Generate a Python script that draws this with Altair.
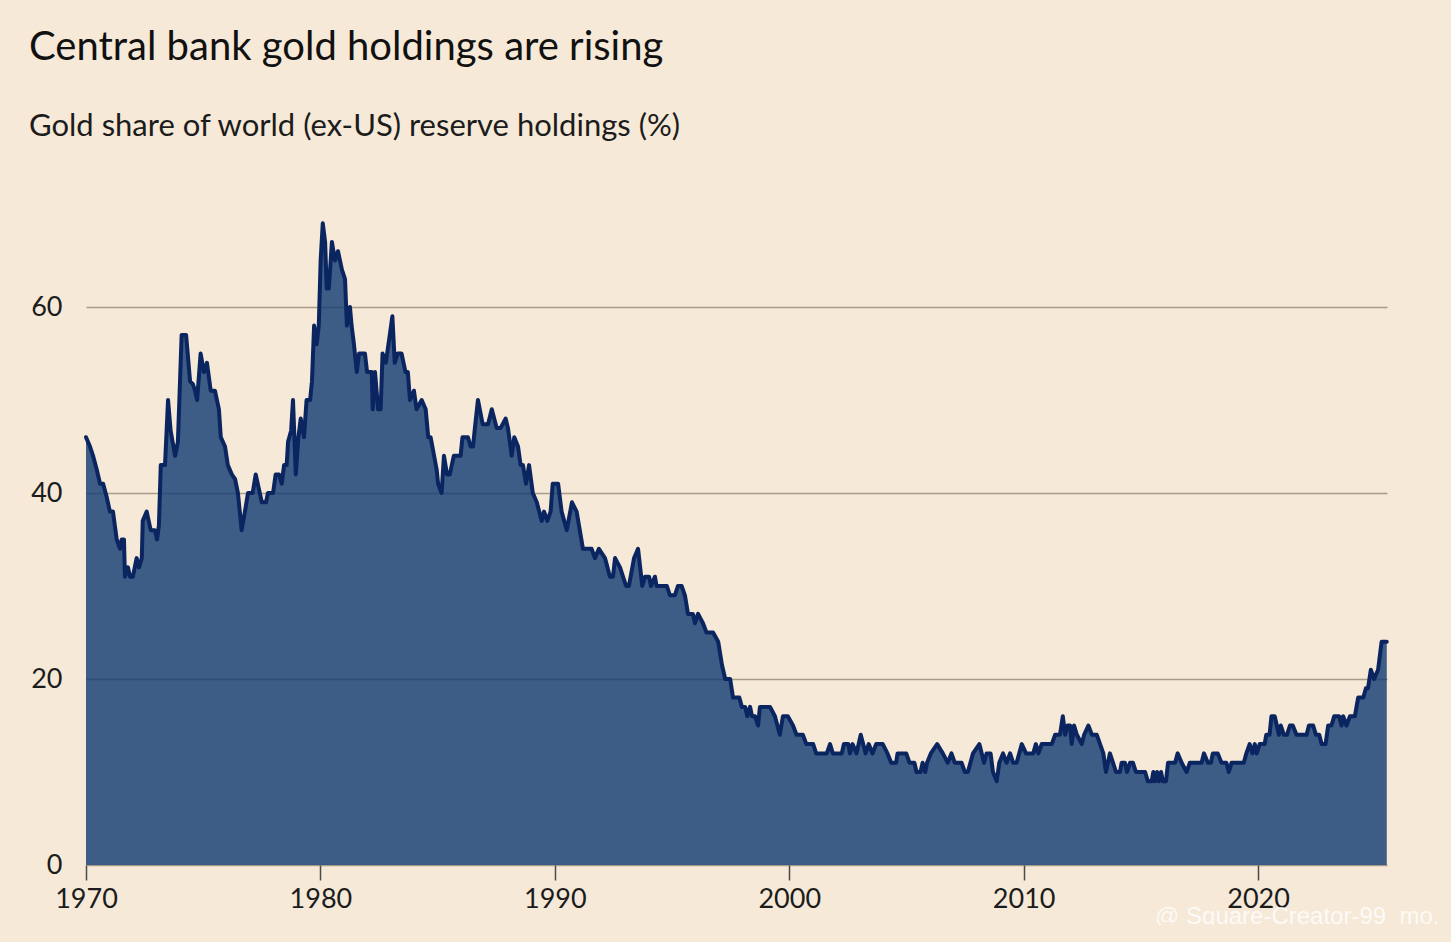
import altair as alt
import pandas as pd

TITLE = "Central bank gold holdings are rising"
SUBTITLE = "Gold share of world (ex-US) reserve holdings (%)"
WATERMARK = "@ Square-Creator-99_mo..."
X_TICKS = [1970, 1980, 1990, 2000, 2010, 2020]
Y_TICKS = [0, 20, 40, 60]

years_70s = [1970.00, 1970.17, 1970.30, 1970.46, 1970.60, 1970.73, 1970.88, 1971.02, 1971.15, 1971.31, 1971.45, 1971.52, 1971.62, 1971.66, 1971.79, 1971.88, 1972.00, 1972.16, 1972.26, 1972.38, 1972.42, 1972.59, 1972.76, 1972.94, 1973.03, 1973.11, 1973.19, 1973.37, 1973.50, 1973.61, 1973.80, 1973.92, 1974.08, 1974.27, 1974.44, 1974.56, 1974.65, 1974.74, 1974.89, 1975.03, 1975.16, 1975.32, 1975.50, 1975.67, 1975.75, 1975.93, 1976.05, 1976.22, 1976.36, 1976.48, 1976.64, 1976.78, 1976.91, 1977.11, 1977.24, 1977.50, 1977.68, 1977.76, 1977.98, 1978.09, 1978.23, 1978.35, 1978.45, 1978.56, 1978.62, 1978.75, 1978.83, 1978.95, 1979.06, 1979.16, 1979.30, 1979.41, 1979.56, 1979.64, 1979.73, 1979.84, 1979.93]
values_70s = [46, 45, 44, 42.5, 41, 41, 39.6, 38, 38, 35, 34, 35, 35, 31, 32, 31, 31, 33, 32, 33, 37, 38, 36, 36, 35, 36.5, 43, 43, 50, 46.7, 44, 45.5, 57, 57, 52, 51.7, 51, 50, 55, 53, 54, 51, 51, 49, 46, 45, 43, 42, 41.5, 40, 36, 38, 40, 40, 42, 39, 39, 40, 40, 42, 42, 41, 43, 43, 45.5, 46.7, 50, 42, 46, 48, 46, 50, 50, 52, 58, 56, 58]

years_80s = [1980.01, 1980.10, 1980.20, 1980.27, 1980.36, 1980.49, 1980.62, 1980.75, 1980.92, 1981.05, 1981.13, 1981.26, 1981.33, 1981.43, 1981.55, 1981.65, 1981.90, 1981.99, 1982.19, 1982.23, 1982.33, 1982.46, 1982.57, 1982.65, 1982.79, 1982.96, 1983.07, 1983.17, 1983.30, 1983.46, 1983.63, 1983.73, 1983.82, 1983.99, 1984.10, 1984.32, 1984.49, 1984.60, 1984.70, 1984.96, 1985.02, 1985.17, 1985.27, 1985.40, 1985.52, 1985.69, 1985.98, 1986.06, 1986.29, 1986.41, 1986.51, 1986.59, 1986.72, 1986.92, 1987.15, 1987.31, 1987.52, 1987.69, 1987.90, 1988.00, 1988.16, 1988.27, 1988.43, 1988.54, 1988.64, 1988.77, 1988.90, 1989.06, 1989.23, 1989.44, 1989.54, 1989.68, 1989.82, 1989.91]
values_80s = [65, 69, 67, 62, 62, 67, 65, 66, 64, 63, 58, 60, 58, 56, 53, 55, 55, 53, 53, 49, 53, 49, 49, 55, 54, 57, 59, 54, 55, 55, 53, 53, 50, 51, 49, 50, 49, 46, 46, 42.5, 41, 40, 44, 42, 42, 44, 44, 46, 46, 45, 45, 47, 50, 47.4, 47.4, 49, 47, 47, 48, 47, 44, 46, 45, 43, 43, 41, 43, 40, 39, 37, 38, 37, 38, 41]

years_90s = [1990.14, 1990.29, 1990.51, 1990.73, 1990.93, 1991.20, 1991.57, 1991.71, 1991.88, 1992.14, 1992.35, 1992.48, 1992.57, 1992.78, 1993.04, 1993.16, 1993.38, 1993.55, 1993.73, 1993.85, 1994.02, 1994.10, 1994.27, 1994.34, 1994.78, 1994.91, 1995.12, 1995.25, 1995.41, 1995.55, 1995.68, 1995.89, 1995.98, 1996.11, 1996.32, 1996.47, 1996.75, 1996.97, 1997.13, 1997.27, 1997.48, 1997.60, 1997.87, 1997.98, 1998.12, 1998.21, 1998.33, 1998.41, 1998.54, 1998.67, 1998.75, 1999.18, 1999.39, 1999.60, 1999.73, 1999.94]
values_90s = [41, 38, 36, 39, 38, 34, 34, 33, 34, 33, 31, 31, 33, 32, 30, 30, 33, 34, 30, 31, 31, 30, 31, 30, 30, 29, 29, 30, 30, 29, 27, 27, 26, 27, 26, 25, 25, 24, 21.5, 20, 20, 18, 18, 17, 17, 16, 17, 16, 16, 15, 17, 17, 16, 14, 16, 16]

years_00s = [2000.16, 2000.31, 2000.58, 2000.73, 2001.02, 2001.15, 2001.60, 2001.74, 2001.86, 2002.24, 2002.33, 2002.52, 2002.59, 2002.70, 2002.87, 2003.05, 2003.26, 2003.39, 2003.55, 2003.71, 2003.99, 2004.19, 2004.35, 2004.56, 2004.62, 2004.99, 2005.13, 2005.34, 2005.43, 2005.60, 2005.69, 2005.80, 2005.88, 2006.04, 2006.31, 2006.55, 2006.76, 2006.92, 2007.06, 2007.35, 2007.49, 2007.62, 2007.84, 2008.11, 2008.31, 2008.42, 2008.59, 2008.69, 2008.85, 2008.96, 2009.12, 2009.27, 2009.42, 2009.55, 2009.70, 2009.92]
values_00s = [15, 14, 14, 13, 13, 12, 12, 13, 12, 12, 13, 13, 12, 13, 12, 14, 12, 13, 12, 13, 13, 12, 11, 11, 12, 12, 11, 11, 10, 10, 11, 10, 11, 12, 13, 12, 11, 12, 11, 11, 10, 10, 12, 13, 11, 12, 12, 10, 9, 11, 12, 11, 12, 11, 11, 13]

years_10s = [2010.10, 2010.41, 2010.52, 2010.63, 2010.77, 2011.20, 2011.34, 2011.55, 2011.67, 2011.77, 2011.87, 2011.98, 2012.05, 2012.15, 2012.27, 2012.48, 2012.58, 2012.76, 2012.91, 2013.12, 2013.26, 2013.40, 2013.51, 2013.68, 2013.81, 2013.94, 2014.11, 2014.18, 2014.32, 2014.41, 2014.54, 2014.66, 2014.79, 2015.18, 2015.30, 2015.46, 2015.53, 2015.60, 2015.69, 2015.77, 2015.86, 2015.94, 2016.07, 2016.16, 2016.46, 2016.57, 2016.74, 2016.95, 2017.09, 2017.59, 2017.69, 2017.86, 2017.99, 2018.07, 2018.28, 2018.44, 2018.65, 2018.75, 2018.87, 2019.39, 2019.50, 2019.64, 2019.76, 2019.86, 2019.94]
values_10s = [12, 12, 13, 12, 13, 13, 14, 14, 16, 14, 15, 15, 13, 15, 14, 13, 14, 15, 14, 14, 13, 12, 10, 12, 11, 10, 10, 11, 11, 10, 11, 11, 10, 10, 9, 9, 10, 9, 10, 9, 10, 9, 9, 11, 11, 12, 11, 10, 11, 11, 12, 11, 11, 12, 12, 11, 11, 10, 11, 11, 12, 13, 12, 13, 12]

years_20s = [2020.07, 2020.28, 2020.35, 2020.49, 2020.57, 2020.71, 2020.89, 2020.97, 2021.10, 2021.23, 2021.36, 2021.48, 2021.64, 2022.07, 2022.17, 2022.35, 2022.47, 2022.61, 2022.71, 2022.88, 2022.99, 2023.13, 2023.25, 2023.46, 2023.56, 2023.63, 2023.77, 2023.92, 2024.13, 2024.27, 2024.49, 2024.60, 2024.69, 2024.81, 2024.95, 2025.12, 2025.27, 2025.49]
values_20s = [13, 13, 14, 14, 16, 16, 14, 15, 14, 14, 15, 15, 14, 14, 15, 15, 14, 14, 13, 13, 15, 15, 16, 16, 15, 16, 15, 16, 16, 18, 18, 19, 19, 21, 20, 21, 24, 24]

years = years_70s + years_80s + years_90s + years_00s + years_10s + years_20s
values = values_70s + values_80s + values_90s + values_00s + values_10s + values_20s
df = pd.DataFrame({"year": years, "share": values})

FONT = "Lato"
BG = "#F6E9D7"

x = alt.X("year:Q", scale=alt.Scale(domain=[1970, 2025.5], nice=False, zero=False),
          axis=alt.Axis(values=X_TICKS, format="d", title=None, grid=False, domain=False,
                        tickSize=15, tickWidth=1.5, tickColor="#4A4A48", labelFontSize=27,
                        labelColor="#1C1C1C", labelFont=FONT, labelPadding=6,
                        labelFlush=False, labelOverlap=False))
y = alt.Y("share:Q", scale=alt.Scale(domain=[0, 70], nice=False),
          axis=alt.Axis(values=Y_TICKS, title=None, ticks=False, domain=False, grid=True,
                        gridColor="#A89C8B", gridWidth=1.6, labelFontSize=27,
                        labelColor="#1C1C1C", labelFont=FONT, labelPadding=24))

area = alt.Chart(df).mark_area(color="#0F3973", opacity=0.8, interpolate="linear").encode(x=x, y=y)
line = alt.Chart(df).mark_line(color="#0B2560", strokeWidth=4, strokeJoin="round",
                               strokeCap="round", interpolate="linear").encode(x=x, y=y)
mark = alt.Chart(pd.DataFrame({"t": [WATERMARK]})).mark_text(
    align="left", baseline="middle", font="Liberation Sans", fontSize=24,
    color="#FFFFFF", opacity=0.8).encode(text="t:N", x=alt.value(1069), y=alt.value(703))

chart = (area + line + mark).properties(
    width=1301, height=651, background=BG,
    padding={"left": 78, "top": 206, "right": 50, "bottom": 60},
    autosize=alt.AutoSizeParams(type="none"),
    title=alt.TitleParams(
        text=TITLE, subtitle=SUBTITLE, anchor="start", frame="group", dx=-57, offset=72,
        font=FONT, fontSize=40, fontWeight="normal", color="#111111",
        subtitleFont=FONT, subtitleFontSize=31, subtitleColor="#1C1C1C", subtitlePadding=44),
).configure_view(stroke=None)

chart.save("out.html", embed_options={"renderer": "svg", "actions": False,
                                      "defaultStyle": "body{background:#F6E9D7}"})
